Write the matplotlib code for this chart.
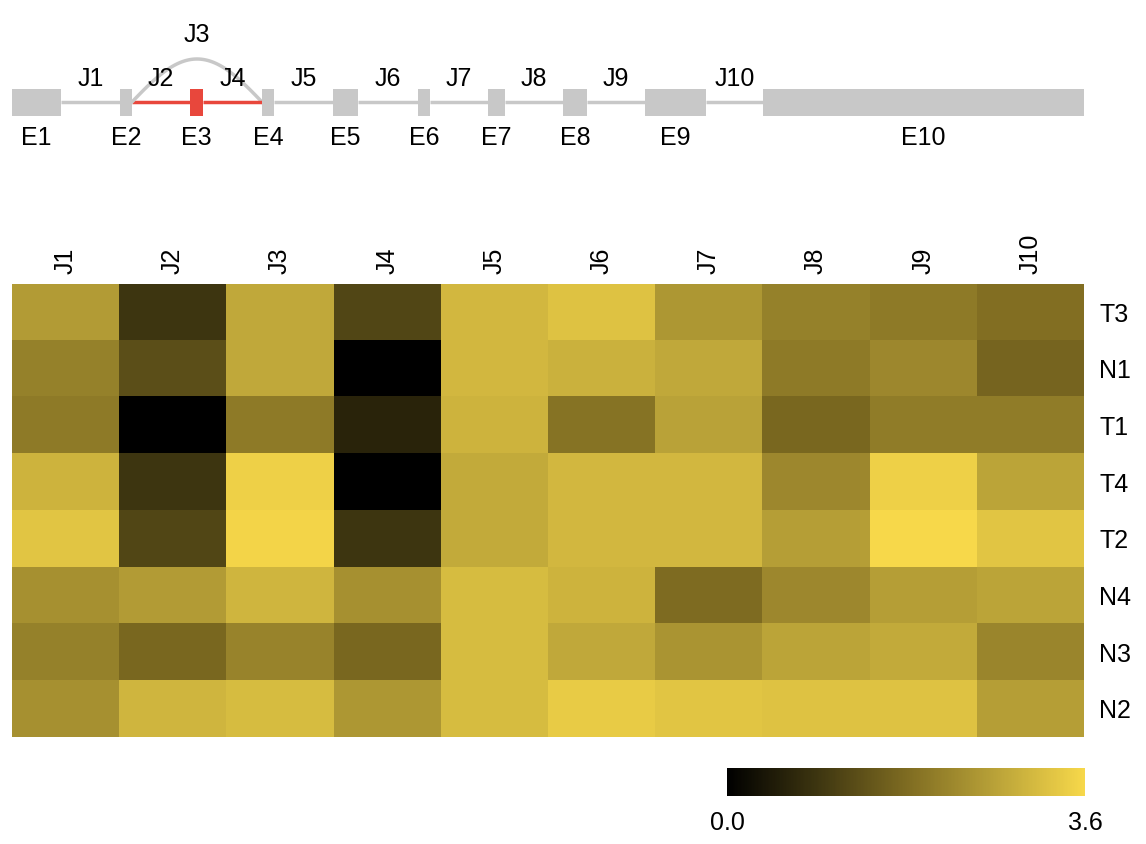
import numpy as np
import matplotlib
matplotlib.use("Agg")
import matplotlib.pyplot as plt
from matplotlib.colors import LinearSegmentedColormap

plt.rcParams["font.family"] = ["Liberation Sans", "DejaVu Sans"]

# ---------------- data ----------------
# gene model (pixel-like genomic coords)
exon_names = ["E1", "E2", "E3", "E4", "E5", "E6", "E7", "E8", "E9", "E10"]
exon_start = [12, 120, 190, 262, 333, 418, 488, 563, 645, 763]
exon_end = [61, 132, 203, 274, 358, 430, 505, 587, 706, 1084]
highlight_exons = ["E3"]

junction_names = ["J1", "J2", "J3", "J4", "J5", "J6", "J7", "J8", "J9", "J10"]
junction_from = [0, 1, 1, 2, 3, 4, 5, 6, 7, 8]
junction_to = [1, 2, 3, 3, 4, 5, 6, 7, 8, 9]
highlight_junctions = ["J2", "J4"]

samples = ["T3", "N1", "T1", "T4", "T2", "N4", "N3", "N2"]
vals_T3 = [2.59, 0.90, 2.81, 1.19, 3.06, 3.24, 2.52, 2.16, 2.05, 1.87]
vals_N1 = [2.16, 1.33, 2.81, 0.00, 3.06, 2.95, 2.81, 2.05, 2.27, 1.69]
vals_T1 = [2.05, 0.00, 2.05, 0.61, 2.99, 1.94, 2.70, 1.73, 2.09, 2.09]
vals_T4 = [2.99, 0.90, 3.46, 0.00, 2.84, 3.06, 3.06, 2.27, 3.46, 2.74]
vals_T2 = [3.28, 1.19, 3.53, 0.90, 2.84, 3.06, 3.06, 2.63, 3.60, 3.28]
vals_N4 = [2.41, 2.59, 3.02, 2.41, 3.13, 2.99, 1.80, 2.27, 2.63, 2.74]
vals_N3 = [2.16, 1.73, 2.20, 1.73, 3.13, 2.81, 2.48, 2.74, 2.84, 2.23]
vals_N2 = [2.41, 3.02, 3.13, 2.52, 3.13, 3.38, 3.28, 3.24, 3.24, 2.63]

vmin, vmax = 0.0, 3.6

# ---------------- style ----------------
W, H = 1146, 844
GREY = "#c8c8c8"
RED = "#e8473c"
FS = 18

cmap = LinearSegmentedColormap.from_list(
    "blk_gold",
    [(0.0, "#000000"), (0.25, "#3d3510"), (0.5, "#7e6b21"),
     (0.75, "#b9a238"), (1.0, "#f7d84a")])

fig = plt.figure(figsize=(W / 100, H / 100), dpi=100)

# ---------------- gene structure ----------------
gh = 170
axg = fig.add_axes([0, 1 - gh / H, 1, gh / H])
axg.set_xlim(0, W)
axg.set_ylim(gh, 0)
axg.axis("off")

base_y = 102
ex_h = 27
label_y_j = 79
label_y_e = 138

for name, a, b in zip(junction_names, junction_from, junction_to):
    x0 = exon_end[a]
    x1 = exon_start[b]
    col = RED if name in highlight_junctions else GREY
    if b - a == 1:
        axg.plot([x0, x1], [base_y, base_y], color=col, lw=2.5,
                 solid_capstyle="butt", zorder=1)
        axg.text((x0 + x1) / 2, label_y_j, name, ha="center", va="center",
                 fontsize=FS)
    else:
        # skipping junction drawn as an arc
        t = np.linspace(0, 1, 100)
        xs = x0 + (x1 - x0) * t
        ys = base_y - 43 * np.sin(np.pi * t)
        axg.plot(xs, ys, color=col, lw=2.5, zorder=1)
        axg.text((x0 + x1) / 2, 35, name, ha="center", va="center",
                 fontsize=FS)

for name, s, e in zip(exon_names, exon_start, exon_end):
    col = RED if name in highlight_exons else GREY
    axg.add_patch(plt.Rectangle((s, base_y - ex_h / 2), e - s, ex_h,
                                facecolor=col, edgecolor="none", zorder=2))
    axg.text((s + e) / 2, label_y_e, name, ha="center", va="center",
             fontsize=FS)

# ---------------- heatmap ----------------
data = np.array([vals_T3, vals_N1, vals_T1, vals_T4,
                 vals_T2, vals_N4, vals_N3, vals_N2])

hm_l, hm_r, hm_t, hm_b = 12, 1084, 284, 737
axh = fig.add_axes([hm_l / W, 1 - hm_b / H, (hm_r - hm_l) / W,
                    (hm_b - hm_t) / H])
axh.imshow(data, cmap=cmap, vmin=vmin, vmax=vmax, aspect="auto",
           interpolation="nearest")
axh.set_xticks(range(len(junction_names)))
axh.set_xticklabels(junction_names, rotation=90, fontsize=FS)
axh.xaxis.tick_top()
axh.set_yticks(range(len(samples)))
axh.set_yticklabels(samples, fontsize=FS)
axh.yaxis.tick_right()
axh.tick_params(length=0, pad=7)
axh.tick_params(axis="y", pad=11)
for sp in axh.spines.values():
    sp.set_visible(False)

# ---------------- colorbar ----------------
cb_l, cb_r, cb_t, cb_b = 727, 1085, 768, 796
axc = fig.add_axes([cb_l / W, 1 - cb_b / H, (cb_r - cb_l) / W,
                    (cb_b - cb_t) / H])
sm = plt.cm.ScalarMappable(cmap=cmap, norm=plt.Normalize(vmin, vmax))
cb = fig.colorbar(sm, cax=axc, orientation="horizontal")
cb.set_ticks([vmin, vmax])
cb.set_ticklabels([f"{vmin:.1f}", f"{vmax:.1f}"])
cb.ax.tick_params(length=0, pad=11, labelsize=FS)
cb.outline.set_visible(False)

fig.savefig("out.png", dpi=100, facecolor="white")
plt.close(fig)
